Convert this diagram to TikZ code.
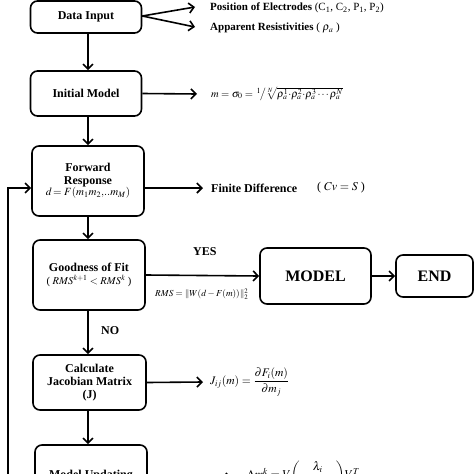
\documentclass[tikz,border=0pt]{standalone}
\usepackage{amsmath}
\usepackage{mathptmx}
\usepackage{fontspec}
\setmainfont{Liberation Serif}
\usetikzlibrary{arrows.meta,calc}
\tikzset{
  box/.style={draw, line width=1.6pt, rounded corners=7pt, align=center,
    font=\fontsize{12}{13}\selectfont\bfseries, inner sep=2pt},
  arr/.style={-{Straight Barb[length=5pt,width=10pt,line width=1.6pt]}, line width=1.6pt},
  lbl/.style={anchor=west, inner sep=0pt, font=\fontsize{11}{13}\selectfont\bfseries},
  eq/.style={anchor=west, inner sep=0pt, font=\fontsize{10}{12}\selectfont}
}
\begin{document}
\begin{tikzpicture}[x=1pt,y=-1pt]
\useasboundingbox (0,0) rectangle (474,474);
\clip (0,0) rectangle (474,474);

% boxes
\node[box, minimum width=111pt, minimum height=32pt] (di) at (86,17) {Data Input};
\node[box, minimum width=111pt, minimum height=45pt] (im) at (86,93.5) {Initial Model};
\node[box, minimum width=112pt, minimum height=70pt] (fr) at (88,181) {Forward\\Response\\[-2pt]{\mdseries\fontsize{11}{12}\selectfont$d\!=F(m_1 m_2,\!..m_M)$}};
\node[box, minimum width=112pt, minimum height=70pt] (gf) at (89,275) {Goodness of Fit\\{\mdseries\fontsize{10.5}{12}\selectfont( $RMS^{k+1}<RMS^{k}$ )}};
\node[box, minimum width=113pt, minimum height=55pt] (jm) at (89.5,382.5) {Calculate\\Jacobian Matrix\\(J)};
\node[box, minimum width=112pt, minimum height=62pt] (mu) at (91,476) {Model Updating};
\node[box, minimum width=111pt, minimum height=56pt, font=\fontsize{16}{18}\selectfont\bfseries] (model) at (315.5,276) {MODEL};
\node[box, minimum width=77pt, minimum height=42pt, font=\fontsize{16}{18}\selectfont\bfseries] (end) at (434.5,276) {END};

% coordinates for free ends
\coordinate (p1) at (195,7);
\coordinate (p2) at (195,27);
\coordinate (p3) at (197,94);
\coordinate (p4) at (203,188);
\coordinate (p5) at (203,382);
\coordinate (p6) at (232,478);
\coordinate (fb) at (8,500);
\coordinate (fbt) at (8,188);

% connectors
\draw[arr] ($(di.east)+(0,-1)$) -- (p1);
\draw[arr] ($(di.east)+(0,-1)$) -- (p2);
\draw[arr] (di.south -| 88,0) -- (im.north -| 88,0);
\draw[arr] (im.east) -- (p3);
\draw[arr] (im.south -| 88,0) -- (fr.north -| 88,0);
\draw[arr] (fr.east |- p4) -- (p4);
\draw[arr] (fb) -- (fbt) -- (fr.west |- fbt);
\draw[arr] (fr.south -| 88,0) -- (gf.north -| 88,0);
\draw[arr] (gf.east) -- (model.west);
\draw[arr] (model.east) -- (end.west);
\draw[arr] (gf.south -| 88,0) -- (jm.north -| 88,0);
\draw[arr] (jm.east) -- (p5);
\draw[arr] (jm.south -| 88,0) -- (mu.north -| 88,0);
\draw[arr] (mu.east |- p6) -- (p6);

% labels
\node[lbl] (t1) at (210,8) {Position of Electrodes {\mdseries(C\textsubscript{1}, C\textsubscript{2}, P\textsubscript{1}, P\textsubscript{2})}};
\node[lbl] (t2) at (210,28) {Apparent Resistivities {\mdseries( $\rho_a$ )}};
\node[eq, font=\fontsize{10.6}{12}\selectfont] (t3) at (211,94) {$m=\sigma_0=\,{}^{1}\!\big/\!\sqrt[N]{\rho_a^1{\cdot}\rho_a^2{\cdot}\rho_a^3\cdots\rho_a^N}$};
\node[lbl, font=\fontsize{12}{13}\selectfont\bfseries] (t4) at (211,188) {Finite Difference};
\node[eq, font=\fontsize{12}{13}\selectfont] (t5) at (317,188) {( $Cv=S$ )};
\node[lbl, font=\fontsize{12}{13}\selectfont\bfseries] (yes) at (193,252) {YES};
\node[eq, font=\fontsize{9.2}{10}\selectfont] (t6) at (155,294) {$RMS=\|W(d-F(m))\|_2^2$};
\node[lbl, font=\fontsize{12}{13}\selectfont\bfseries] (no) at (101,331) {NO};
\node[eq, font=\fontsize{11.6}{13}\selectfont] (t7) at (210,382) {$J_{ij}(m)=\dfrac{\partial F_i(m)}{\partial m_j}$};
\node[eq, font=\fontsize{12}{14}\selectfont] (t8) at (247,476) {$\Delta m^k=V\!\left(\dfrac{\lambda_i}{\lambda_i^2+\mu}\right)\!V^T$};
\end{tikzpicture}
\end{document}
